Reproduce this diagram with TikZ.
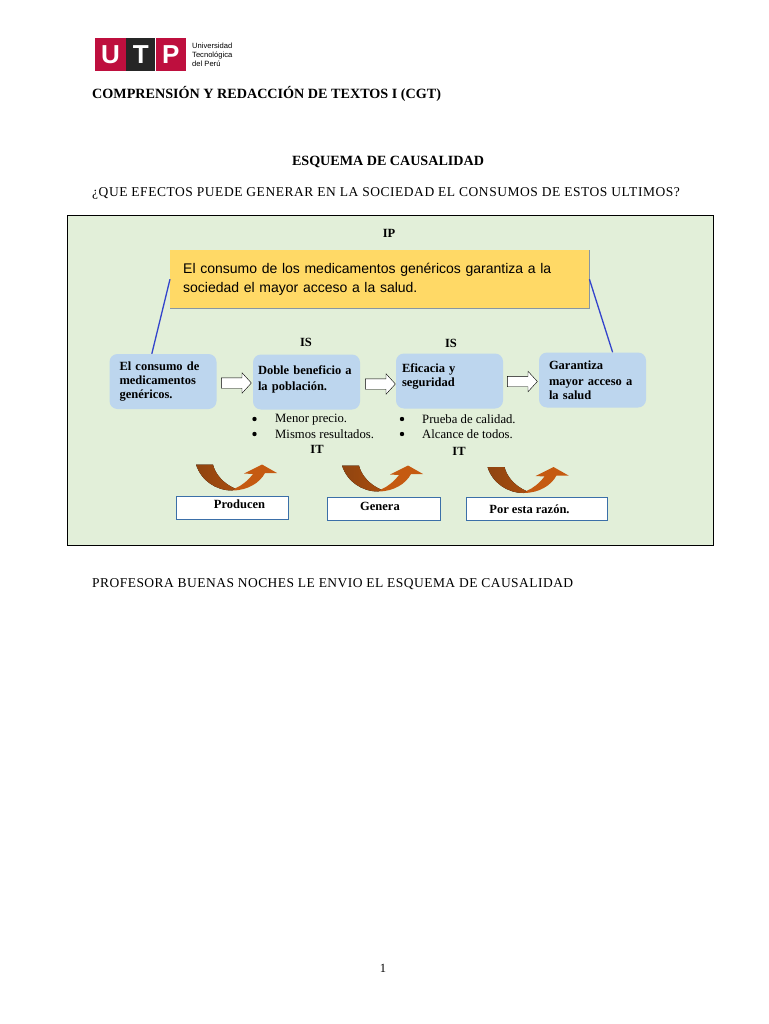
\documentclass[tikz,border=0pt]{standalone}
\usepackage{fontspec}
\setmainfont{Liberation Serif}
\setsansfont{Liberation Sans}
\newfontfamily\titlefont[LetterSpace=4]{Liberation Serif}
\newfontfamily\closingfont[LetterSpace=3.4]{Liberation Serif}
\usepackage{xcolor}
\definecolor{colorPanel}{HTML}{E2EFD9}
\definecolor{colorIdea}{HTML}{FFD966}
\definecolor{colorBox}{HTML}{BDD6EE}
\definecolor{colorLink}{HTML}{3344CC}
\definecolor{colorFrame}{HTML}{3B6FA8}
\definecolor{colorShadow}{HTML}{8796A3}
\definecolor{colorRed}{HTML}{BE0F3E}
\definecolor{colorDark}{HTML}{8F4410}
\definecolor{colorOrange}{HTML}{C55A11}
\usetikzlibrary{positioning, shapes.arrows}
\tikzset{
  secondary/.style={draw=none, fill=colorBox, rounded corners=8pt, minimum width=107pt, minimum height=55pt, text width=107pt-2*#1, inner xsep=#1, inner ysep=0pt, align=left, font=\fontsize{12.5}{14}\selectfont\bfseries},
  twolines/.style={execute at end node={\par\vspace*{#1}}},
  lowered/.style={execute at begin node={\vspace*{2pt}}},
  label/.style={font=\fontsize{12.5}{14}\selectfont\bfseries, inner sep=0pt},
  plain/.style={font=\fontsize{12.7}{15}\selectfont, inner sep=0pt, align=left},
  connective/.style={draw=colorFrame, line width=0.9pt, fill=white, minimum height=23pt, inner sep=0pt},
  blockarrow/.style={single arrow, draw=black, fill=white, inner xsep=0pt, inner ysep=5pt, single arrow head extend=5pt, single arrow tip angle=95, minimum height=30pt},
  logoletter/.style={minimum height=33pt, inner sep=0pt, text=white, font=\sffamily\bfseries\fontsize{26}{26}\selectfont},
  bulletdot/.style={circle, fill=black, inner sep=0pt, minimum size=4.4pt},
  curvedarrow/.pic={
    \fill[colorOrange] (39,24) .. controls (46,21) and (52,16) .. (57,9.5) -- (48,9) -- (66,0) -- (81,8.5) -- (69,8.5) .. controls (64,18) and (52,26) .. (36,26) -- cycle;
    \fill[left color=colorDark, right color=colorOrange!85!black] (0,0) -- (17,0) .. controls (19,9) and (27,19) .. (39,24) -- (36,26) .. controls (20,26) and (5,16) .. (0,0) -- cycle;
  },
}

\begin{document}
\begin{tikzpicture}[x=1pt, y=-1pt]
\useasboundingbox (0,0) rectangle (768,1024);
\fill[white] (0,0) rectangle (768,1024);
% logo
\node[logoletter, fill=colorRed, minimum width=31pt] (logoU) at (110.5,55) {U};
\node[logoletter, fill=black!85, minimum width=29pt, right=0pt of logoU] (logoT) {T};
\node[logoletter, fill=colorRed, minimum width=30pt, right=0pt of logoT] (logoP) {P};
\node[right=6pt of logoP, inner sep=0pt, align=left, font=\sffamily\fontsize{7.6}{8.8}\selectfont] (logoText) {Universidad\\Tecnológica\\del Perú};
% headings
\node[anchor=west, inner sep=0pt, font=\fontsize{14.15}{16}\selectfont\bfseries] (course) at (92,94) {COMPRENSIÓN Y REDACCIÓN DE TEXTOS I (CGT)};
\node[inner sep=0pt, font=\fontsize{14.1}{16}\selectfont\bfseries] (heading) at (388,162) {ESQUEMA DE CAUSALIDAD};
\node[anchor=west, inner sep=0pt, font=\titlefont\fontsize{13.5}{15}\selectfont] (question) at (92,193) {¿QUE EFECTOS PUEDE GENERAR EN LA SOCIEDAD EL CONSUMOS DE ESTOS ULTIMOS?};
% panel
\node[draw=black, fill=colorPanel, anchor=north west, minimum width=646pt, minimum height=330pt, inner sep=0pt] (panel) at (67,215) {};
\node[label] (ip) at (389,233) {IP};
\node[fill=colorIdea, anchor=north west, minimum width=419pt, minimum height=58pt, inner xsep=13pt, inner ysep=0pt, text width=393pt, align=left, font=\sffamily\fontsize{14}{16.5}\selectfont, lowered] (idea) at (170,250) {El consumo de los medicamentos genéricos garantiza a la\\sociedad el mayor acceso a la salud.};
\draw[colorShadow, line width=1.3pt] (idea.south west) -- (idea.south east) -- (idea.north east);
% secondary ideas
\node[secondary=10pt] (cause) at (163,381.5) {El consumo de\\medicamentos\\genéricos.};
\node[secondary=5pt, twolines=5pt] (benefit) at (306.5,382) {Doble beneficio a\\[2pt]la población.};
\node[secondary=6pt, twolines=9pt] (safety) at (449.5,381) {Eficacia y\\seguridad};
\node[secondary=10pt, lowered] (access) at (592.5,380) {Garantiza\\mayor acceso a\\la salud};
\node[label] (is1) at (306,342) {IS};
\node[label] (is2) at (451,343) {IS};
\draw[colorLink, line width=1.3pt] (idea.west) -- (cause.112);
\draw[colorLink, line width=1.3pt] (idea.east) -- (access.54);
% arrows between the boxes
\node[blockarrow] (arrow1) at (234,383) {};
\node[blockarrow] (arrow2) at (378,384) {};
\node[blockarrow] (arrow3) at (520,381.5) {};
% lists
\node[bulletdot] (dot1) at (254.5,419) {};
\node[bulletdot] (dot2) at (254.5,434) {};
\node[bulletdot] (dot3) at (402,419) {};
\node[bulletdot] (dot4) at (402,434) {};
\node[plain, anchor=west] (price) at (275,419.5) {Menor precio.};
\node[plain, anchor=west] (same) at (275,434.5) {Mismos resultados.};
\node[plain, anchor=west] (quality) at (422,419.5) {Prueba de calidad.};
\node[plain, anchor=west] (reach) at (422,434.5) {Alcance de todos.};
\node[label] (it1) at (317,449) {IT};
\node[label] (it2) at (459,451) {IT};
% connectives
\pic at (196,464.5) {curvedarrow};
\pic at (342,465.5) {curvedarrow};
\pic at (487.5,467) {curvedarrow};
\node[connective, anchor=north west, minimum width=112pt] (produce) at (176,496) {};
\node[label] (produceText) at (239.5,504) {Producen};
\node[connective, anchor=north west, minimum width=113pt] (generate) at (327,497) {};
\node[label] (generateText) at (380,506) {Genera};
\node[connective, anchor=north west, minimum width=141pt] (reason) at (466,497) {};
\node[label] (reasonText) at (529.5,509.5) {Por esta razón.};
% closing line
\node[anchor=west, inner sep=0pt, font=\closingfont\fontsize{13.5}{15}\selectfont] (closing) at (92,584) {PROFESORA BUENAS NOCHES LE ENVIO EL ESQUEMA DE CAUSALIDAD};
\node[inner sep=0pt, font=\fontsize{12.5}{14}\selectfont] (page) at (383,968) {1};
\end{tikzpicture}
\end{document}
